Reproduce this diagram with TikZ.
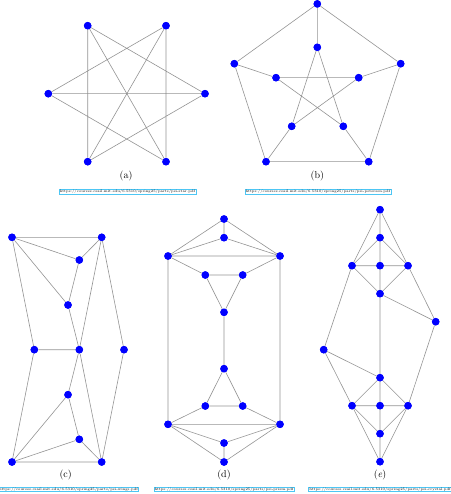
\documentclass[tikz,border=0pt]{standalone}
\begin{document}
\begin{tikzpicture}[x=1pt,y=-1pt,
  v/.style={circle,fill=blue,inner sep=0pt,minimum size=7.5pt},
  ed/.style={draw=black!42,line width=0.6pt},
  lab/.style={font=\fontsize{10}{12}\selectfont,inner sep=0pt},
  url/.style={draw=cyan!70,line width=0.5pt,inner sep=0.6pt,font=\fontsize{3.5}{4.2}\selectfont}]
\useasboundingbox (0,0) rectangle (450,494);
% (a)
\node[v] (a1) at (87.7,25.7) {};
\node[v] (a2) at (166,25.7) {};
\node[v] (a3) at (48.3,93.7) {};
\node[v] (a4) at (205,93.7) {};
\node[v] (a5) at (87.7,161.7) {};
\node[v] (a6) at (166,161.7) {};
\draw[ed] (a1)--(a5) (a2)--(a6) (a3)--(a4) (a1)--(a4) (a1)--(a6) (a2)--(a3) (a2)--(a5) (a3)--(a6) (a4)--(a5);
\foreach \n in {a1,a2,a3,a4,a5,a6} \node[v] at (\n) {};
\node[lab] (la) at (126,175.7) {(a)};
\node[url] (ua) at (127.5,191.5) {https://courses.csail.mit.edu/6.5310/spring25/parts/psi-star.pdf};
% (b)
\node[v] (b1) at (317.3,3.9) {};
\node[v] (b2) at (234.3,63.7) {};
\node[v] (b3) at (400.7,63.7) {};
\node[v] (b4) at (266,161.7) {};
\node[v] (b5) at (368.7,161.7) {};
\node[v] (c1) at (317.3,47.3) {};
\node[v] (c2) at (276,77.7) {};
\node[v] (c3) at (358.7,77.7) {};
\node[v] (c4) at (291.7,126.3) {};
\node[v] (c5) at (343.3,126.3) {};
\draw[ed] (b1)--(b2) (b1)--(b3) (b2)--(b4) (b3)--(b5) (b4)--(b5)
  (b1)--(c1) (b2)--(c2) (b3)--(c3) (b4)--(c4) (b5)--(c5)
  (c1)--(c4) (c1)--(c5) (c2)--(c3) (c2)--(c5) (c3)--(c4);
\foreach \n in {b1,b2,b3,b4,b5,c1,c2,c3,c4,c5} \node[v] at (\n) {};
\node[lab] (lb) at (317.3,175.7) {(b)};
\node[url] (ub) at (318,191.5) {https://courses.csail.mit.edu/6.5310/spring25/parts/psi-petersen.pdf};
% (c)
\node[v] (A) at (12,237.3) {};
\node[v] (B) at (101.7,237.3) {};
\node[v] (C) at (79.3,260) {};
\node[v] (D) at (68,305) {};
\node[v] (E) at (34.3,349.7) {};
\node[v] (F) at (79.3,349.7) {};
\node[v] (G) at (124,349.7) {};
\node[v] (H) at (68,394.7) {};
\node[v] (I) at (79.3,439.3) {};
\node[v] (J) at (12,462) {};
\node[v] (K) at (101.7,462) {};
\draw[ed] (A)--(B) (A)--(C) (A)--(D) (A)--(E) (B)--(C) (B)--(F) (B)--(G)
  (C)--(D) (D)--(F) (E)--(F) (E)--(J) (F)--(H) (F)--(K) (G)--(K)
  (H)--(I) (H)--(J) (I)--(J) (I)--(K) (J)--(K);
\foreach \n in {A,B,C,D,E,F,G,H,I,J,K} \node[v] at (\n) {};
\node[lab] (lc) at (65.7,475.3) {(c)};
\node[url] (uc) at (68.5,489.3) {https://courses.csail.mit.edu/6.5310/spring25/parts/psi-wings.pdf};
% (d)
\node[v] (d1) at (224,219) {};
\node[v] (d2) at (224,237.7) {};
\node[v] (dl1) at (168,256) {};
\node[v] (dr1) at (280,256) {};
\node[v] (d3) at (205.3,275) {};
\node[v] (d4) at (242.7,275) {};
\node[v] (d5) at (224,312.3) {};
\node[v] (d6) at (224,368.7) {};
\node[v] (d7) at (205.3,406) {};
\node[v] (d8) at (242.7,406) {};
\node[v] (dl2) at (168,424.3) {};
\node[v] (dr2) at (280,424.3) {};
\node[v] (d9) at (224,443) {};
\node[v] (d10) at (224,462) {};
\draw[ed] (d1)--(dl1) (d1)--(dr1) (d1)--(d2) (d2)--(dl1) (d2)--(dr1) (dl1)--(dr1)
  (dl1)--(d3) (dr1)--(d4) (d3)--(d4) (d3)--(d5) (d4)--(d5) (d5)--(d6)
  (d6)--(d7) (d6)--(d8) (d7)--(d8) (d7)--(dl2) (d8)--(dr2) (dl2)--(dr2)
  (dl2)--(d9) (dr2)--(d9) (dl2)--(d10) (dr2)--(d10) (d9)--(d10)
  (dl1)--(dl2) (dr1)--(dr2);
\foreach \n in {d1,d2,dl1,dr1,d3,d4,d5,d6,d7,d8,dl2,dr2,d9,d10} \node[v] at (\n) {};
\node[lab] (ld) at (224,475.3) {(d)};
\node[url] (ud) at (224,489.3) {https://courses.csail.mit.edu/6.5310/spring25/parts/psi-prism.pdf};
% (e)
\node[v] (e1) at (380,209.7) {};
\node[v] (e2) at (380,237.7) {};
\node[v] (e3) at (352,265.7) {};
\node[v] (e4) at (380,265.7) {};
\node[v] (e5) at (408,265.7) {};
\node[v] (e6) at (380,293.7) {};
\node[v] (e7) at (435.7,321.7) {};
\node[v] (e8) at (323.7,349.7) {};
\node[v] (e9) at (380,377.7) {};
\node[v] (e10) at (352,405.7) {};
\node[v] (e11) at (380,405.7) {};
\node[v] (e12) at (408,405.7) {};
\node[v] (e13) at (380,433.7) {};
\node[v] (e14) at (380,461.7) {};
\draw[ed] (e1)--(e2) (e1)--(e3) (e1)--(e5) (e2)--(e3) (e2)--(e5) (e2)--(e4)
  (e3)--(e4) (e4)--(e5) (e3)--(e6) (e5)--(e6) (e4)--(e6) (e3)--(e8) (e5)--(e7)
  (e6)--(e7) (e6)--(e9) (e8)--(e9) (e7)--(e12) (e8)--(e10)
  (e9)--(e10) (e9)--(e12) (e9)--(e11) (e10)--(e11) (e11)--(e12)
  (e10)--(e13) (e12)--(e13) (e11)--(e13) (e10)--(e14) (e12)--(e14) (e13)--(e14);
\foreach \n in {e1,e2,e3,e4,e5,e6,e7,e8,e9,e10,e11,e12,e13,e14} \node[v] at (\n) {};
\node[lab] (le) at (380,475.3) {(\textit{e})};
\node[url] (ue) at (380,489.3) {https://courses.csail.mit.edu/6.5310/spring25/parts/psi-crystal.pdf};
\end{tikzpicture}
\end{document}
